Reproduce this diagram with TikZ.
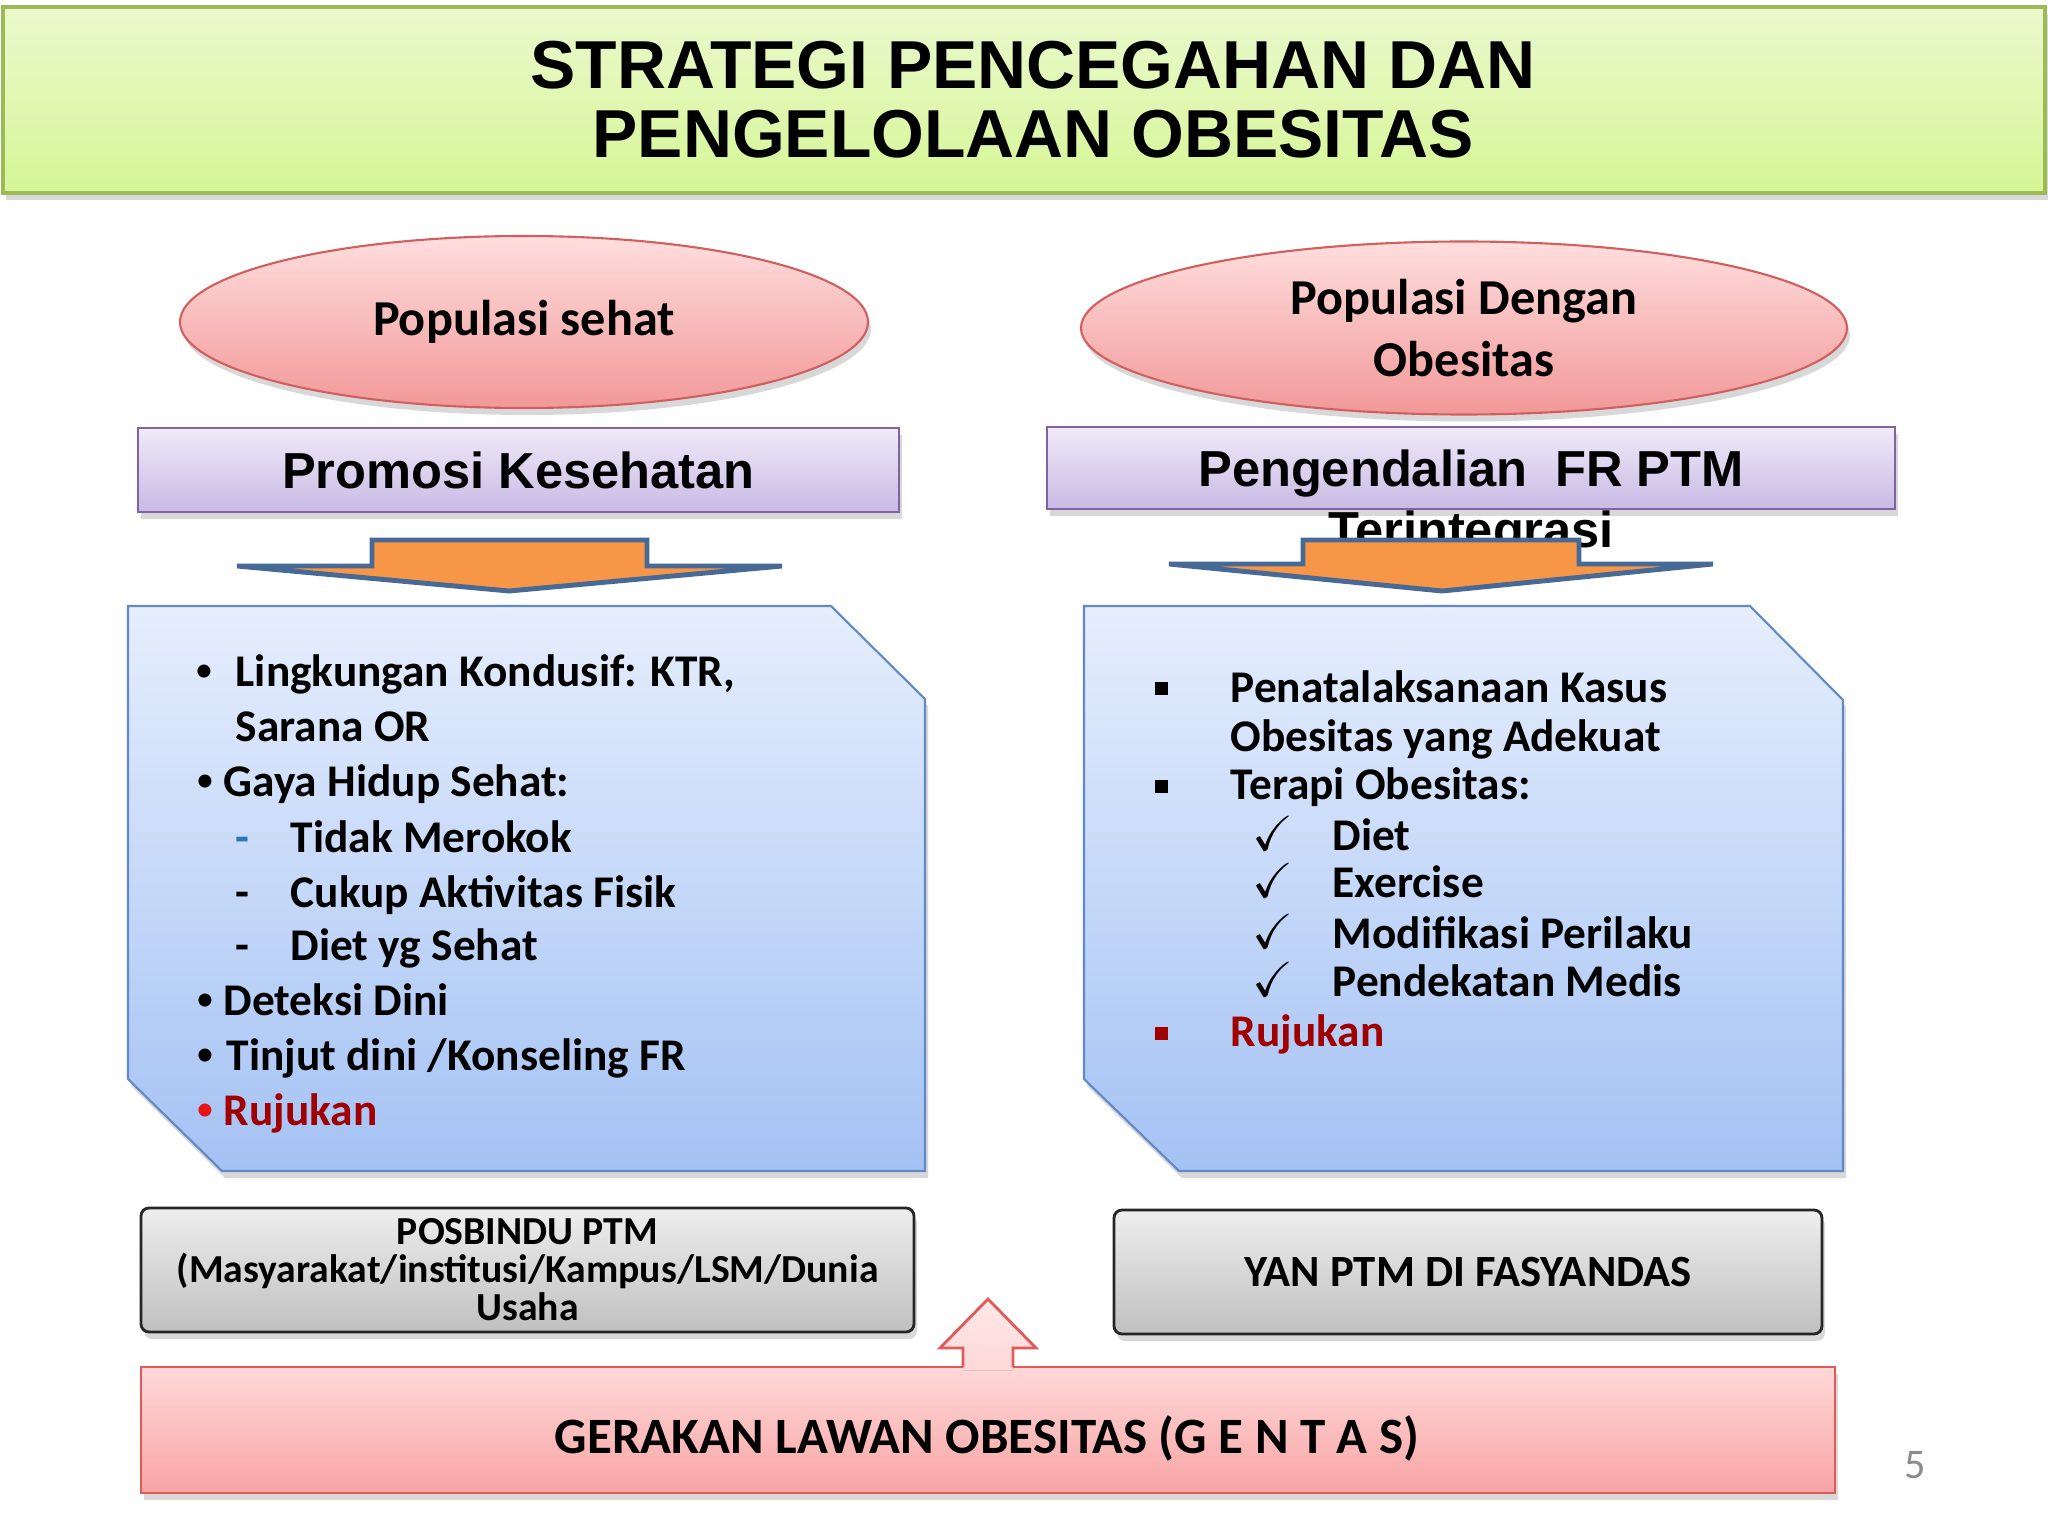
\documentclass[tikz,border=0pt]{standalone}
\usepackage{fontspec}
\usepackage{amssymb}
\usepackage{tikz}
\usetikzlibrary{arrows.meta,positioning,calc,shapes.geometric,shadows}
\setmainfont{Carlito}
\newfontfamily\arialfont{Liberation Sans}

\definecolor{titleTop}{RGB}{234,249,205}
\definecolor{titleBot}{RGB}{214,246,150}
\definecolor{titleEdge}{RGB}{155,187,89}
\definecolor{popTop}{RGB}{255,222,222}
\definecolor{popBot}{RGB}{242,152,152}
\definecolor{popEdge}{RGB}{210,95,95}
\definecolor{lavTop}{RGB}{240,234,249}
\definecolor{lavBot}{RGB}{200,186,228}
\definecolor{lavEdge}{RGB}{128,100,162}
\definecolor{blueTop}{RGB}{230,238,253}
\definecolor{blueBot}{RGB}{164,194,244}
\definecolor{blueEdge}{RGB}{98,136,200}
\definecolor{arrowOrange}{RGB}{247,150,70}
\definecolor{arrowEdge}{RGB}{70,105,150}
\definecolor{grayTop}{RGB}{238,238,238}
\definecolor{grayBot}{RGB}{192,192,192}
\definecolor{gentasTop}{RGB}{255,216,216}
\definecolor{gentasBot}{RGB}{248,164,164}
\definecolor{gentasEdge}{RGB}{225,90,90}
\definecolor{rujukRed}{RGB}{160,0,0}
\definecolor{bulletRed}{RGB}{230,20,20}
\definecolor{dashBlue}{RGB}{46,117,182}
\definecolor{pageGray}{RGB}{140,140,140}

\newcommand{\listfont}{\fontsize{12.9}{15}\selectfont\bfseries}
\newcommand{\posfont}{\fontsize{11.3}{10.8}\selectfont\bfseries\lineskiplimit=-5pt\relax}
\newcommand{\dotbul}{{\arialfont\textbullet}}

\begin{document}
\begin{tikzpicture}[x=1cm,y=-1cm,
  shade/.style={drop shadow={opacity=0.3,shadow xshift=0.03cm,shadow yshift=-0.07cm}},
  popul/.style={ellipse,draw=popEdge,line width=0.6pt,top color=popTop,bottom color=popBot,inner sep=0,shade,
    align=center,font=\fontsize{14.3}{17.4}\selectfont\bfseries},
  promo/.style={rectangle,draw=lavEdge,line width=0.8pt,top color=lavTop,bottom color=lavBot,inner sep=0,shade,
    font=\arialfont\fontsize{14.4}{17.6}\selectfont\bfseries},
  bluebox/.style={draw=blueEdge,line width=0.6pt,top color=blueTop,bottom color=blueBot,shade},
  downarrow/.style={draw=arrowEdge,line width=1.4pt,fill=arrowOrange},
  graybox/.style={rectangle,rounded corners=0.08cm,draw=black!85,line width=0.8pt,top color=grayTop,bottom color=grayBot,
    inner sep=0,shade,align=center},
  listline/.style={anchor=base west,inner sep=0,font=\listfont},
  listbul/.style={anchor=base,inner sep=0,font=\listfont},
  sqbul/.style={rectangle,fill=black,inner sep=0,minimum size=0.13cm},
  chk/.style={anchor=base,inner sep=0,font=\fontsize{14}{14}\selectfont}]

\useasboundingbox[fill=white] (0,0) rectangle (20.48,15.36);

% title band
\node[rectangle,draw=titleEdge,line width=1pt,top color=titleTop,bottom color=titleBot,inner sep=0,
  minimum width=20.42cm,minimum height=1.86cm,shade] (title) at (10.24,1.00) {};
\node[align=center,inner sep=0,font=\arialfont\fontsize{19.3}{19.6}\selectfont\bfseries] (title-text)
  at (10.33,1.00) {STRATEGI PENCEGAHAN DAN\\PENGELOLAAN OBESITAS};

% populations
\node[popul,minimum width=6.88cm,minimum height=1.72cm] (pop-sehat) at (5.24,3.22) {Populasi sehat};
\node[popul,minimum width=7.66cm,minimum height=1.73cm] (pop-obes) at (14.64,3.28) {Populasi Dengan\\Obesitas};

% programmes
\node[promo,minimum width=7.61cm,minimum height=0.84cm] (promosi) at (5.185,4.70) {Promosi Kesehatan};
\node[promo,minimum width=8.48cm,minimum height=0.82cm] (pengendalian) at (14.71,4.68) {};
\node[align=center,inner sep=0,font=\arialfont\fontsize{14.4}{17.6}\selectfont\bfseries] (pengendalian-text)
  at (14.71,5.04) {Pengendalian~~FR PTM\\Terintegrasi};

\draw[downarrow] (3.72,5.40) -- (6.47,5.40) -- (6.47,5.66) -- (7.82,5.66) -- (5.09,5.91)
  -- (2.37,5.66) -- (3.72,5.66) -- cycle;
\draw[downarrow] (13.03,5.40) -- (15.79,5.40) -- (15.79,5.64) -- (17.13,5.64) -- (14.42,5.91)
  -- (11.69,5.64) -- (13.03,5.64) -- cycle;

% content boxes
\draw[bluebox] (1.28,6.06) -- (8.31,6.06) -- (9.25,6.99) -- (9.25,11.71) -- (2.22,11.71) -- (1.28,10.79) -- cycle;
\draw[bluebox] (10.84,6.06) -- (17.50,6.06) -- (18.43,7.00) -- (18.43,11.71) -- (11.79,11.71) -- (10.84,10.79) -- cycle;

\node[listbul] (b1) at (2.04,6.87) {\dotbul};
\node[listline] (l1) at (2.35,6.87) {Lingkungan Kondusif: KTR,};
\node[listline] (l2) at (2.35,7.42) {Sarana OR};
\node[listbul] (b2) at (2.05,7.97) {\dotbul};
\node[listline] (l3) at (2.23,7.97) {Gaya Hidup Sehat:};
\node[listbul,text=dashBlue] (d1) at (2.42,8.52) {-};
\node[listline] (l4) at (2.90,8.52) {Tidak Merokok};
\node[listbul] (d2) at (2.42,9.07) {-};
\node[listline] (l5) at (2.90,9.07) {Cukup Aktivitas Fisik};
\node[listbul] (d3) at (2.42,9.60) {-};
\node[listline] (l6) at (2.90,9.60) {Diet yg Sehat};
\node[listbul] (b3) at (2.05,10.15) {\dotbul};
\node[listline] (l7) at (2.23,10.15) {Deteksi Dini};
\node[listbul] (b4) at (2.05,10.70) {\dotbul};
\node[listline] (l8) at (2.26,10.70) {Tinjut dini /Konseling FR};
\node[listbul,text=bulletRed] (b5) at (2.05,11.25) {\dotbul};
\node[listline,text=rujukRed] (l9) at (2.23,11.25) {Rujukan};

\node[sqbul] (s1) at (11.61,6.89) {};
\node[listline] (r1) at (12.30,7.02) {Penatalaksanaan Kasus};
\node[listline] (r2) at (12.30,7.52) {Obesitas yang Adekuat};
\node[sqbul] (s2) at (11.61,7.87) {};
\node[listline] (r3) at (12.30,8.00) {Terapi Obesitas:};
\node[chk] (c1) at (12.73,8.50) {$\checkmark$};
\node[listline] (r4) at (13.32,8.50) {Diet};
\node[chk] (c2) at (12.73,8.98) {$\checkmark$};
\node[listline] (r5) at (13.32,8.98) {Exercise};
\node[chk] (c3) at (12.73,9.48) {$\checkmark$};
\node[listline] (r6) at (13.32,9.48) {Modifikasi Perilaku};
\node[chk] (c4) at (12.73,9.96) {$\checkmark$};
\node[listline] (r7) at (13.32,9.96) {Pendekatan Medis};
\node[sqbul,fill=rujukRed] (s3) at (11.61,10.33) {};
\node[listline,text=rujukRed] (r8) at (12.30,10.46) {Rujukan};

% services
\node[graybox,minimum width=7.73cm,minimum height=1.24cm,font=\posfont] (posbindu) at (5.275,12.70)
  {POSBINDU PTM\\(Masyarakat/institusi/Kampus/LSM/Dunia\\Usaha};
\node[graybox,minimum width=7.08cm,minimum height=1.24cm,font=\fontsize{12.7}{15}\selectfont\bfseries] (yan)
  at (14.68,12.72) {YAN PTM DI FASYANDAS};

% gentas
\node[rectangle,draw=gentasEdge,line width=0.8pt,top color=gentasTop,bottom color=gentasBot,inner sep=0,shade,
  minimum width=16.94cm,minimum height=1.26cm] (gentas) at (9.88,14.30) {};
\node[inner sep=0,font=\fontsize{14.5}{17}\selectfont\bfseries] (gentas-text)
  at (9.87,14.38) {GERAKAN LAWAN OBESITAS (G E N T A S)};

\fill[top color=gentasTop!60,bottom color=gentasTop] (9.63,13.70) -- (9.63,13.48) -- (9.40,13.48) -- (9.88,12.99)
  -- (10.36,13.48) -- (10.13,13.48) -- (10.13,13.70) -- cycle;
\draw[gentasEdge,line width=0.8pt] (9.63,13.67) -- (9.63,13.48) -- (9.40,13.48) -- (9.88,12.99)
  -- (10.36,13.48) -- (10.13,13.48) -- (10.13,13.67);

\node[text=pageGray,font=\fontsize{12}{14}\selectfont] (page) at (19.15,14.65) {5};

\end{tikzpicture}
\end{document}
